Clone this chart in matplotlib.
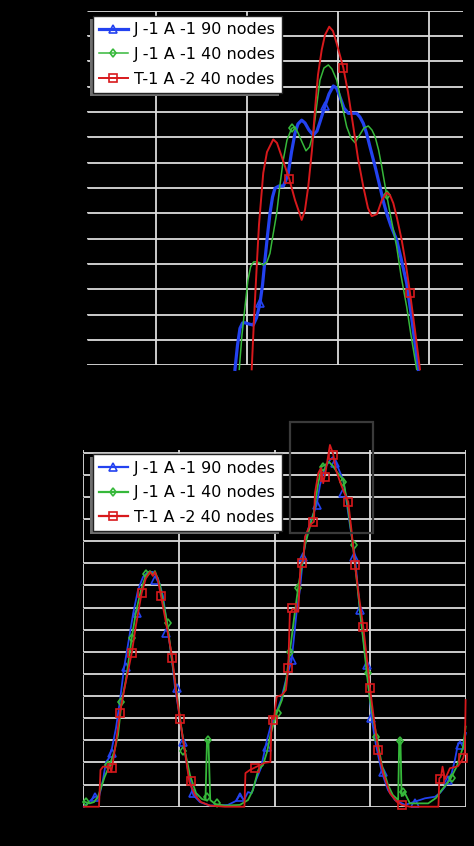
import matplotlib
matplotlib.use("Agg")
import matplotlib.pyplot as plt
from matplotlib.lines import Line2D
from matplotlib.patches import Rectangle
from matplotlib.transforms import IdentityTransform

labels = ["J -1 A -1 90 nodes", "J -1 A -1 40 nodes", "T-1 A -2 40 nodes"]
colors = ["#2342f0", "#36b83a", "#d8191c"]
markers = ["^", "d", "s"]

# --- top panel: close-up of the main peak ---
top_blue_x = [1.869, 1.897, 1.924, 1.952, 1.979, 2.023, 2.07, 2.106, 2.144, 2.172, 2.199, 2.227,
              2.254, 2.282, 2.309, 2.353, 2.401, 2.43, 2.455, 2.491, 2.529, 2.562, 2.603, 2.639,
              2.683, 2.73, 2.771, 2.804, 2.859, 2.903, 2.951, 2.986, 3.024, 3.068, 3.116, 3.156,
              3.208, 3.244, 3.281, 3.316, 3.354, 3.409, 3.464, 3.503, 3.538, 3.585, 3.648, 3.695,
              3.758, 3.816, 3.886]
top_blue_y = [-0.16, 0.8, 1.46, 1.67, 1.68, 1.63, 1.59, 1.87, 2.45, 3.17, 4.16, 5.14,
              6.0, 6.64, 6.99, 7.08, 7.08, 7.32, 7.58, 8.42, 9.16, 9.53, 9.68, 9.57,
              9.29, 9.09, 9.25, 9.61, 10.24, 10.71, 11.03, 10.95, 10.6, 10.16, 9.95, 9.95,
              9.95, 9.8, 9.55, 9.17, 8.63, 7.87, 7.05, 6.45, 6.0, 5.5, 4.95, 4.24,
              3.24, 1.79, -0.16]
top_green_x = [1.916, 1.946, 1.979, 2.012, 2.041, 2.073, 2.108, 2.144, 2.18, 2.221, 2.254, 2.287,
               2.328, 2.364, 2.4, 2.441, 2.493, 2.529, 2.565, 2.606, 2.65, 2.689, 2.73, 2.766,
               2.804, 2.848, 2.896, 2.936, 2.988, 3.035, 3.098, 3.145, 3.189, 3.233, 3.288, 3.336,
               3.376, 3.411, 3.449, 3.484, 3.509, 3.538, 3.585, 3.648, 3.695, 3.758, 3.805, 3.868]
top_green_y = [-0.16, 1.2, 2.31, 3.37, 3.89, 4.08, 4.09, 4.04, 3.96, 4.08, 4.42, 5.14,
               6.0, 7.12, 8.1, 8.89, 9.36, 9.41, 9.16, 8.82, 8.47, 8.62, 9.16, 10.2,
               11.26, 11.74, 11.86, 11.7, 11.26, 10.47, 9.42, 8.97, 8.79, 9.05, 9.37, 9.45,
               9.29, 9.02, 8.5, 7.84, 7.32, 6.72, 5.82, 4.68, 3.56, 2.31, 1.2, -0.16]
top_red_x = [2.053, 2.078, 2.108, 2.133, 2.18, 2.221, 2.29, 2.331, 2.383, 2.466, 2.529, 2.603,
             2.639, 2.675, 2.716, 2.749, 2.782, 2.823, 2.859, 2.906, 2.947, 2.988, 3.061, 3.112,
             3.171, 3.222, 3.281, 3.332, 3.373, 3.431, 3.486, 3.538, 3.574, 3.611, 3.651, 3.703,
             3.75, 3.794, 3.849, 3.904]
top_red_y = [-0.16, 1.79, 3.89, 5.54, 7.59, 8.42, 8.92, 8.78, 8.24, 7.36, 6.53, 5.74,
             6.13, 7.05, 8.5, 10.08, 11.46, 12.45, 13.04, 13.37, 13.2, 12.71, 11.75, 10.79,
             9.42, 8.18, 7.05, 6.21, 5.89, 5.97, 6.53, 6.81, 6.72, 6.4, 5.82, 4.95,
             3.96, 2.87, 1.39, -0.16]
top_blue_mx, top_blue_my = [2.144, 2.859], [2.45, 10.24]
top_green_mx, top_green_my = [2.493, 3.538], [9.36, 6.72]
top_red_mx, top_red_my = [2.466, 3.061, 3.794], [7.36, 11.75, 2.87]

# --- bottom panel: full signal ---
bot_blue_x = [0.007, 0.08, 0.122, 0.164, 0.206, 0.237, 0.269, 0.3, 0.342, 0.384, 0.426, 0.467,
              0.522, 0.572, 0.624, 0.676, 0.728, 0.78, 0.833, 0.888, 0.927, 0.958, 1.0, 1.045,
              1.094, 1.149, 1.219, 1.324, 1.512, 1.596, 1.637, 1.679, 1.721, 1.76, 1.805, 1.857,
              1.916, 1.961, 2.021, 2.066, 2.118, 2.178, 2.23, 2.264, 2.299, 2.348, 2.39, 2.439,
              2.474, 2.526, 2.578, 2.609, 2.651, 2.717, 2.752, 2.787, 2.84, 2.892, 2.962, 3.014,
              3.059, 3.119, 3.185, 3.258, 3.363, 3.467, 3.572, 3.676, 3.728, 3.781, 3.85, 3.884,
              3.918, 3.971, 3.999]
bot_blue_y = [0.0, 0.3, 0.45, 0.44, 1.21, 2.02, 2.2, 2.65, 3.56, 4.82, 6.27, 7.31,
              8.75, 9.79, 10.38, 10.61, 10.61, 10.34, 9.52, 7.84, 6.63, 5.42, 4.28, 2.94,
              1.66, 0.53, 0.21, 0.05, 0.08, 0.26, 0.53, 0.3, 0.66, 0.61, 1.21, 1.75,
              2.94, 3.69, 4.29, 4.82, 5.73, 6.63, 8.81, 9.79, 11.38, 12.51, 13.05, 13.64,
              14.54, 15.31, 15.67, 15.8, 15.44, 14.77, 13.79, 12.73, 11.3, 8.81, 6.4, 4.0,
              2.79, 1.58, 0.75, 0.3, 0.08, 0.23, 0.38, 0.45, 0.62, 0.9, 1.51, 2.11,
              2.87, 2.87, 3.33]
bot_green_x = [0.007, 0.067, 0.112, 0.154, 0.224, 0.276, 0.328, 0.363, 0.401, 0.446, 0.506, 0.551,
               0.603, 0.655, 0.697, 0.728, 0.749, 0.801, 0.878, 0.927, 0.979, 1.021, 1.063, 1.115,
               1.178, 1.24, 1.277, 1.293, 1.308, 1.327, 1.38, 1.484, 1.637, 1.721, 1.773, 1.829,
               1.878, 1.92, 1.961, 2.021, 2.076, 2.118, 2.159, 2.201, 2.247, 2.286, 2.317, 2.369,
               2.411, 2.452, 2.491, 2.526, 2.568, 2.609, 2.651, 2.717, 2.763, 2.818, 2.867, 2.909,
               2.962, 2.996, 3.066, 3.121, 3.185, 3.235, 3.291, 3.302, 3.315, 3.327, 3.354, 3.414,
               3.605, 3.685, 3.745, 3.832, 3.902, 3.971, 3.996]
bot_green_y = [0.23, 0.15, 0.21, 0.45, 1.36, 1.88, 2.56, 3.24, 4.75, 5.73, 7.61, 8.8,
               9.79, 10.47, 10.65, 10.47, 10.65, 10.02, 8.29, 6.63, 5.05, 3.69, 2.49, 1.43,
               0.62, 0.35, 0.3, 3.01, 3.01, 0.3, 0.12, 0.05, 0.08, 0.3, 0.75, 1.66,
               1.88, 2.47, 3.33, 4.22, 4.82, 5.64, 7.01, 8.44, 9.94, 10.92, 11.83, 12.66,
               13.32, 14.54, 15.37, 15.44, 15.58, 15.4, 15.13, 14.77, 13.64, 11.83, 9.88, 8.21,
               6.1, 4.82, 3.16, 1.88, 0.98, 0.53, 0.3, 3.01, 3.01, 0.48, 0.68, 0.15,
               0.15, 0.39, 0.75, 1.21, 1.81, 2.71, 3.62]
bot_red_x = [0.007, 0.164, 0.18, 0.206, 0.276, 0.293, 0.313, 0.345, 0.383, 0.436, 0.506, 0.551,
             0.61, 0.655, 0.697, 0.728, 0.749, 0.78, 0.812, 0.875, 0.93, 0.969, 1.01, 1.063,
             1.108, 1.167, 1.23, 1.324, 1.48, 1.684, 1.695, 1.742, 1.812, 1.899, 1.956, 1.969,
             1.992, 2.021, 2.076, 2.118, 2.142, 2.159, 2.19, 2.247, 2.27, 2.299, 2.317, 2.369,
             2.411, 2.421, 2.456, 2.484, 2.508, 2.536, 2.578, 2.612, 2.641, 2.683, 2.724, 2.769,
             2.803, 2.84, 2.882, 2.926, 2.962, 2.997, 3.039, 3.083, 3.135, 3.205, 3.275, 3.327,
             3.414, 3.712, 3.721, 3.738, 3.755, 3.78, 3.8, 3.832, 3.884, 3.918, 3.971, 3.988,
             3.996]
bot_red_y = [0.0, 0.0, 1.66, 1.81, 1.81, 1.58, 2.11, 3.01, 4.25, 5.46, 6.93, 8.21,
             9.65, 10.34, 10.61, 10.43, 10.61, 10.25, 9.52, 8.08, 6.73, 5.27, 3.95, 2.47,
             1.13, 0.53, 0.21, 0.05, 0.0, 0.0, 1.52, 1.66, 1.81, 1.99, 2.02, 4.05,
             3.96, 4.97, 5.05, 5.27, 6.26, 8.74, 8.94, 8.81, 10.92, 11.15, 12.2, 12.73,
             12.88, 14.16, 15.07, 15.31, 14.62, 15.22, 16.35, 15.94, 15.22, 14.69, 14.22, 13.79,
             12.51, 10.92, 9.48, 8.14, 6.77, 5.35, 3.92, 2.56, 1.51, 0.61, 0.23, 0.08,
             0.0, 0.0, 1.28, 1.34, 1.81, 1.25, 1.43, 1.74, 1.79, 1.84, 2.19, 2.47,
             4.82]
bot_blue_mx = [0.122, 0.297, 0.446, 0.558, 0.749, 0.864, 0.976, 1.039, 1.143, 1.637, 1.916, 2.178,
               2.299, 2.439, 2.629, 2.717, 2.832, 2.895, 2.962, 3.003, 3.129, 3.467, 3.814, 3.934]
bot_blue_my = [0.45, 2.41, 6.33, 8.77, 10.25, 7.84, 5.35, 2.94, 0.61, 0.45, 2.71, 6.63,
               11.3, 13.64, 15.52, 14.2, 11.3, 8.89, 6.4, 4.0, 1.58, 0.15, 1.21, 2.79]
bot_green_mx = [0.028, 0.261, 0.391, 0.512, 0.652, 0.888, 1.039, 1.29, 1.3, 1.394, 2.038, 2.16,
                2.24, 2.502, 2.717, 2.829, 2.978, 3.059, 3.309, 3.344, 3.85]
bot_green_my = [0.2, 1.88, 4.75, 7.64, 10.52, 8.29, 2.52, 0.45, 3.01, 0.15, 4.22, 7.01,
                9.87, 15.37, 14.69, 11.83, 6.03, 3.16, 2.97, 0.68, 1.3]
bot_red_mx = [0.297, 0.383, 0.506, 0.61, 0.812, 0.93, 1.01, 1.125, 1.794, 1.985, 2.142, 2.178,
              2.282, 2.403, 2.526, 2.612, 2.769, 2.84, 2.926, 2.996, 3.083, 3.327, 3.727, 3.971]
bot_red_my = [1.74, 4.25, 6.93, 9.65, 9.52, 6.73, 3.95, 1.18, 1.75, 3.92, 6.26, 8.97,
              11.0, 12.88, 14.92, 15.9, 13.79, 10.92, 8.14, 5.35, 2.56, 0.08, 1.24, 2.19]

zoom_box = (2.16, 3.027, 12.37, 17.4)  # x0, x1, y0, y1 in bottom-panel units


def add_shadow(fig, ax, leg):
    fig.canvas.draw()
    bb = leg.get_window_extent()
    sh = Rectangle((bb.x0 - 3, bb.y0 - 3), bb.width, bb.height, transform=IdentityTransform(),
                   facecolor="#6e6e6e", edgecolor="none", zorder=4.9, clip_on=False)
    ax.add_patch(sh)


def setup(ax, xlim, ylim, xticks, yticks):
    ax.set_facecolor("black")
    ax.set_xlim(*xlim)
    ax.set_ylim(*ylim)
    ax.set_xticks(xticks)
    ax.set_yticks(yticks)
    ax.grid(True, color="#dcdcdc", lw=1.3)
    ax.set_axisbelow(True)
    for s in ax.spines.values():
        s.set_visible(False)
    ax.tick_params(colors="black", labelcolor="black")


fig = plt.figure(figsize=(4.74, 8.46), dpi=100, facecolor="black")
ax1 = fig.add_axes([0.1835, 0.5682, 0.7932, 0.4191])
ax2 = fig.add_axes([0.1757, 0.04645, 0.8074, 0.4216])

legend_kw = dict(loc="upper left", borderaxespad=0, fontsize=11.5, handlelength=1.8,
                 handletextpad=0.4, labelspacing=0.6, borderpad=0.4, fancybox=False,
                 framealpha=1, edgecolor="#222222", facecolor="white")

# top panel
setup(ax1, (0.241, 4.377), (0, 14), [1, 2, 3, 4], range(0, 15))
top_lines = [(top_blue_x, top_blue_y, top_blue_mx, top_blue_my, 2.3),
             (top_green_x, top_green_y, top_green_mx, top_green_my, 1.1),
             (top_red_x, top_red_y, top_red_mx, top_red_my, 1.4)]
for (x, y, mx, my, lw), c, m in zip(top_lines, colors, markers):
    ax1.plot(x, y, color=c, lw=lw, clip_on=False, solid_joinstyle="round")
    ax1.plot(mx, my, ls="none", marker=m, ms=5.5 if m != "d" else 4.5, mfc="none", mec=c, mew=1.2,
             clip_on=False)
handles1 = [Line2D([], [], color=c, lw=lw, marker=m, ms=6 if m != "d" else 4.5, mfc="none", mew=1.2)
            for c, m, lw in zip(colors, markers, [2.3, 1.1, 1.4])]
leg1 = ax1.legend(handles1, labels, bbox_to_anchor=(0.015, 0.985), **legend_kw)

# bottom panel
setup(ax2, (0, 4), (0, 16.12), [0, 1, 2, 3, 4], range(0, 17))
bot_lines = [(bot_blue_x, bot_blue_y, bot_blue_mx, bot_blue_my),
             (bot_green_x, bot_green_y, bot_green_mx, bot_green_my),
             (bot_red_x, bot_red_y, bot_red_mx, bot_red_my)]
for (x, y, mx, my), c, m in zip(bot_lines, colors, markers):
    ax2.plot(x, y, color=c, lw=1.3, clip_on=False, solid_joinstyle="round")
    ax2.plot(mx, my, ls="none", marker=m, ms=5.5 if m != "d" else 4.5, mfc="none", mec=c, mew=1.2,
             clip_on=False)
handles2 = [Line2D([], [], color=c, lw=1.6, marker=m, ms=6 if m != "d" else 4.5, mfc="none", mew=1.2)
            for c, m in zip(colors, markers)]
leg2 = ax2.legend(handles2, labels, bbox_to_anchor=(0.0246, 0.988), **legend_kw)

x0, x1, y0, y1 = zoom_box
ax2.add_patch(Rectangle((x0, y0), x1 - x0, y1 - y0, fill=False, edgecolor="#3a3a3a", lw=1.6,
                        clip_on=False, zorder=3))

add_shadow(fig, ax1, leg1)
add_shadow(fig, ax2, leg2)

fig.savefig("out.png", dpi=100, facecolor="black")
